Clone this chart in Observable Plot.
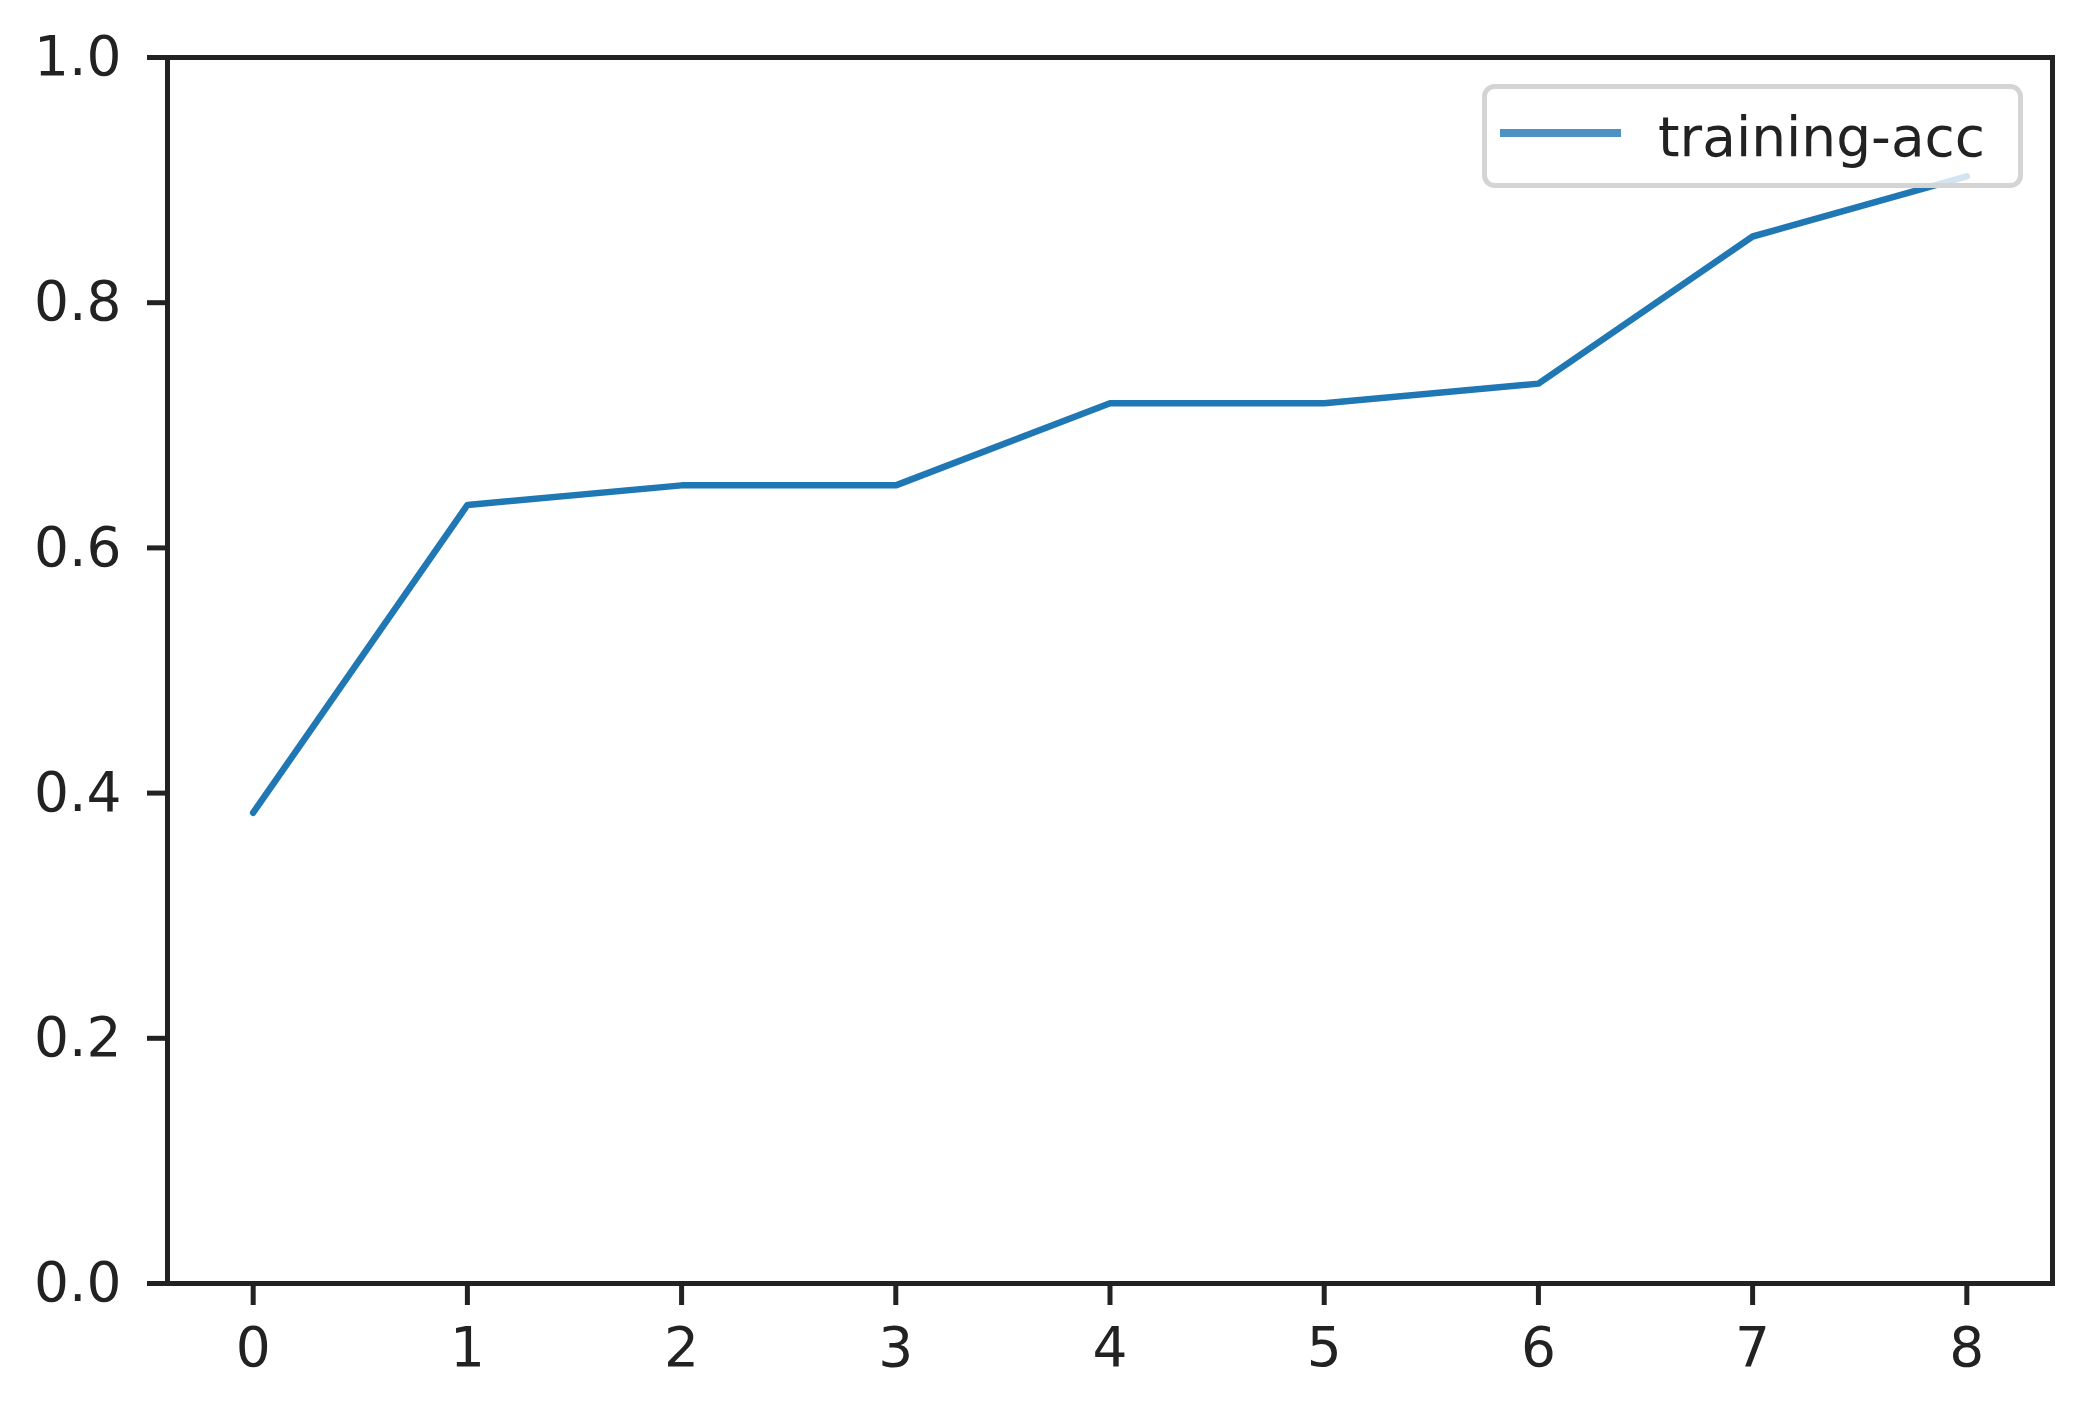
<!DOCTYPE html>
<html><head><meta charset="utf-8">
<script src="https://cdn.jsdelivr.net/npm/d3@7"></script>
<script src="https://cdn.jsdelivr.net/npm/@observablehq/plot@0.6"></script>
<style>
html,body{margin:0;padding:0;background:#fff;}
#wrap{position:relative;width:2089px;height:1416px;}
#legend{position:absolute;left:1482px;top:84px;}
</style></head>
<body><div id="wrap"></div>
<script>
const epochs = [0, 1, 2, 3, 4, 5, 6, 7, 8];
const trainingAcc = [0.384, 0.635, 0.651, 0.651, 0.718, 0.718, 0.734, 0.854, 0.903];
const xTicks = [0, 1, 2, 3, 4, 5, 6, 7, 8];
const yTicks = [0.0, 0.2, 0.4, 0.6, 0.8, 1.0];
const seriesName = "training-acc";

const data = epochs.map((e, i) => ({epoch: e, acc: trainingAcc[i]}));
const color = "#1f77b4";
const ink = "#222";

const chart = Plot.plot({
  width: 2089,
  height: 1416,
  marginLeft: 167,
  marginRight: 37,
  marginTop: 57,
  marginBottom: 133,
  style: {fontFamily: "DejaVu Sans", fontSize: "55px", color: ink, background: "#fff"},
  x: {domain: [-0.4, 8.4], ticks: xTicks, tickFormat: d => String(d), tickSize: 22, tickPadding: 21, label: null},
  y: {domain: [0, 1], ticks: yTicks, tickFormat: d3.format(".1f"), tickSize: 20, tickPadding: 26, label: null},
  marks: [
    Plot.line(data, {x: "epoch", y: "acc", stroke: color, strokeWidth: 6.5}),
    Plot.frame({stroke: ink, strokeWidth: 5}),
    Plot.axisX({ticks: xTicks, tickFormat: d => String(d), tickSize: 22, tickPadding: 21, strokeWidth: 5, stroke: ink, fill: ink, label: null}),
    Plot.axisY({ticks: yTicks, tickFormat: d3.format(".1f"), tickSize: 20, tickPadding: 26, strokeWidth: 5, stroke: ink, fill: ink, label: null})
  ]
});
document.getElementById("wrap").appendChild(chart);

// legend overlay (matplotlib-style box in the upper right)
const lw = 541, lh = 104;
const leg = d3.select("#wrap").append("svg").attr("id", "legend").attr("width", lw).attr("height", lh);
leg.append("rect").attr("x", 2.5).attr("y", 2.5).attr("width", lw - 5).attr("height", lh - 5).attr("rx", 10)
  .attr("fill", "#fff").attr("fill-opacity", 0.8).attr("stroke", "#d4d4d4").attr("stroke-width", 5);
leg.append("line").attr("x1", 18).attr("x2", 139).attr("y1", 49).attr("y2", 49)
  .attr("stroke", color).attr("stroke-width", 8).attr("stroke-opacity", 0.8);
leg.append("text").attr("x", 176).attr("y", 72).text(seriesName)
  .attr("font-family", "DejaVu Sans").attr("font-size", 55).attr("fill", ink);
</script>
</body></html>
